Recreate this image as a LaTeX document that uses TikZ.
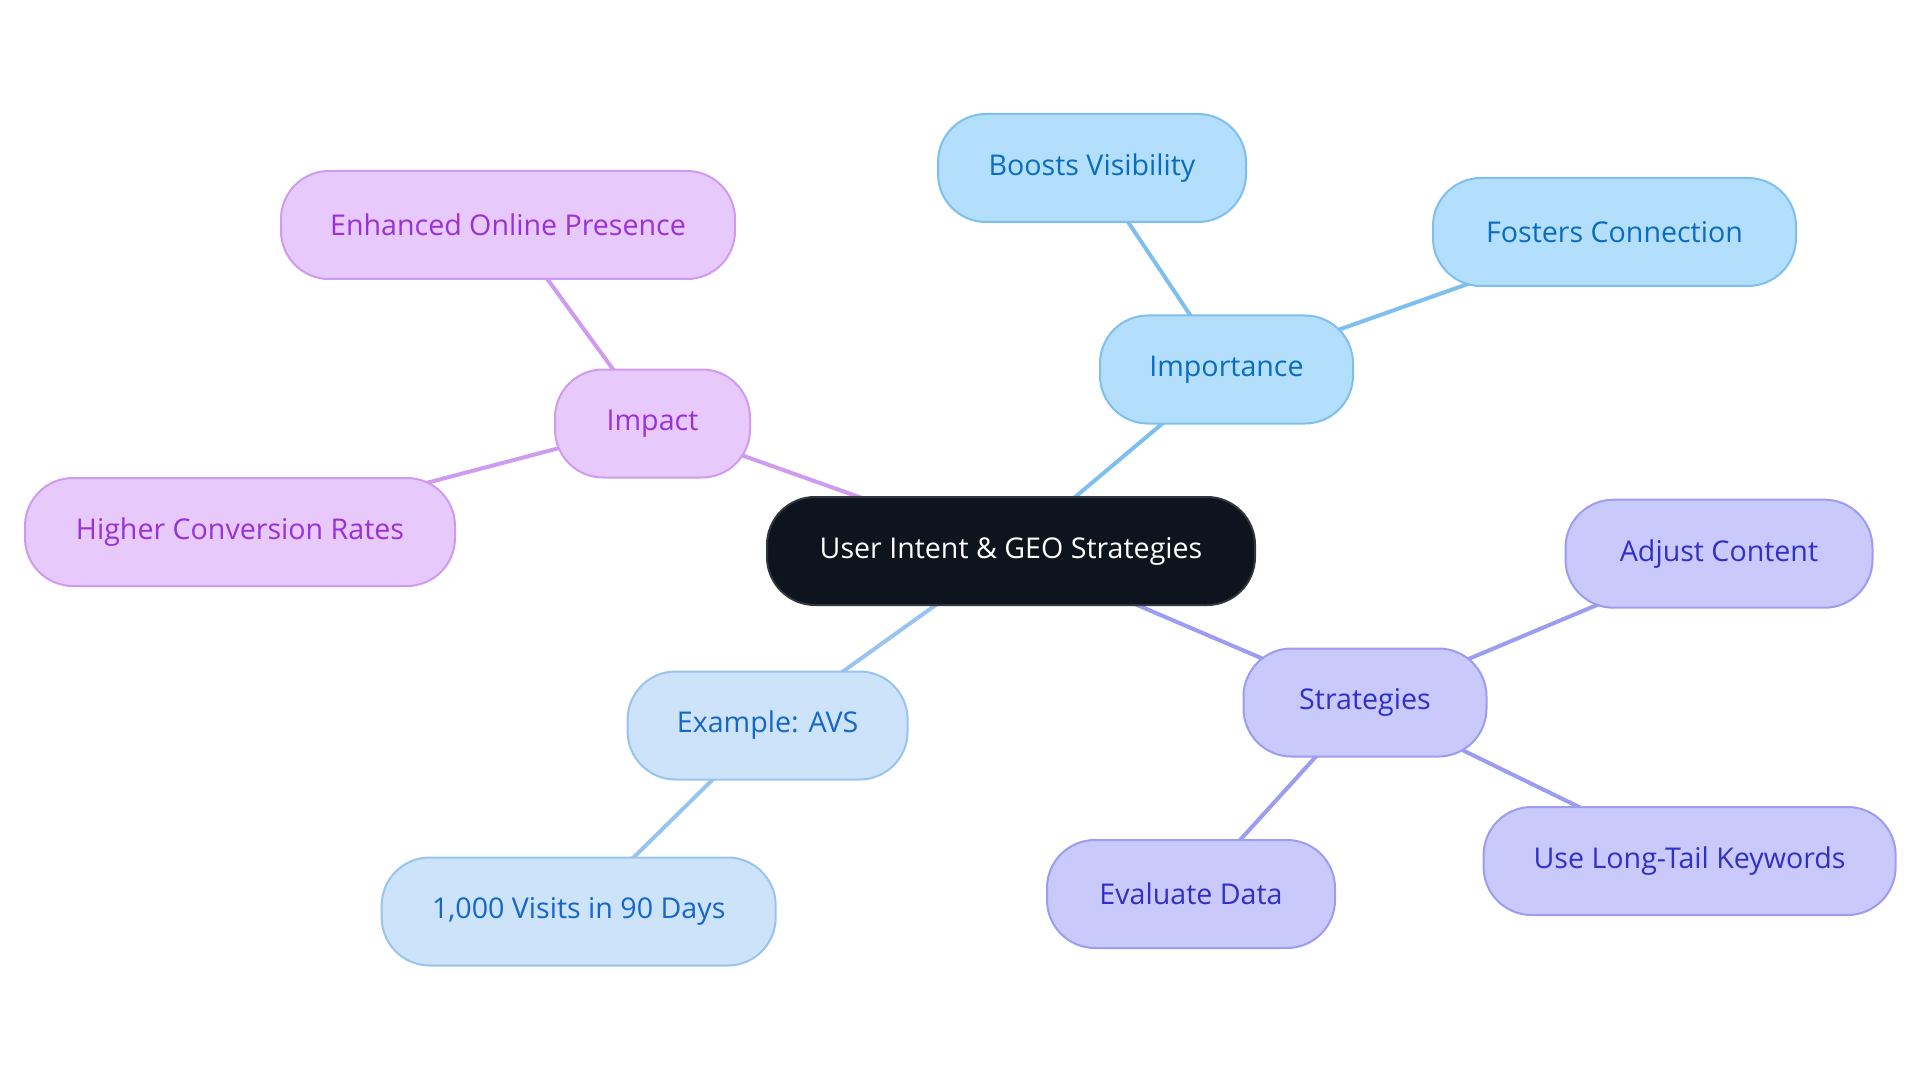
\documentclass[tikz,border=0pt]{standalone}
\usepackage{fontspec}
\setmainfont{Open Sans}
\pgfdeclarelayer{bg}
\pgfsetlayers{bg,main}
\definecolor{cdark}{HTML}{0D141E}
\definecolor{cdarkb}{HTML}{30363E}
\definecolor{bfill}{HTML}{B4DFFC}
\definecolor{bline}{HTML}{7DC0EF}
\definecolor{btext}{HTML}{0A6CBF}
\definecolor{pfill}{HTML}{E7C9FC}
\definecolor{pline}{HTML}{CF9BF0}
\definecolor{ptext}{HTML}{9A30D8}
\definecolor{efill}{HTML}{CDE3FA}
\definecolor{eline}{HTML}{98C4EF}
\definecolor{etext}{HTML}{1566C8}
\definecolor{lfill}{HTML}{C9C9FC}
\definecolor{lline}{HTML}{9C9CF0}
\definecolor{ltext}{HTML}{3030C8}
\tikzset{
  x=1pt, y=-1pt,
  nbox/.style={rounded corners=48pt, minimum height=108pt, inner sep=0pt, line width=2pt, font=\fontsize{28.6}{34}\selectfont},
  rootbox/.style={nbox, fill=cdark, draw=cdarkb, text=white},
  bbox/.style={nbox, fill=bfill, draw=bline, text=btext},
  pbox/.style={nbox, fill=pfill, draw=pline, text=ptext},
  ebox/.style={nbox, fill=efill, draw=eline, text=etext},
  lbox/.style={nbox, fill=lfill, draw=lline, text=ltext},
  edge/.style={line width=4pt},
}
\begin{document}
\begin{tikzpicture}
\useasboundingbox (0,0) rectangle (1920,1083);
\node[rootbox, minimum width=488pt] (root) at (1011,551) {User Intent \& GEO Strategies};
\node[bbox, minimum width=253pt] (imp) at (1226.5,369.5) {Importance};
\node[bbox, minimum width=308pt] (boost) at (1092,168) {Boosts Visibility};
\node[bbox, minimum width=363pt] (fost) at (1614.5,232) {Fosters Connection};
\node[pbox, minimum width=195pt] (impact) at (652.5,423.5) {Impact};
\node[pbox, minimum width=454pt] (enh) at (508,225) {Enhanced Online Presence};
\node[pbox, minimum width=430pt] (high) at (240,532) {Higher Conversion Rates};
\node[ebox, minimum width=280pt] (ex) at (767.6,725.5) {Example: AVS};
\node[ebox, minimum width=394pt] (visits) at (578.7,911.5) {1,000 Visits in 90 Days};
\node[lbox, minimum width=243pt] (strat) at (1365,702.5) {Strategies};
\node[lbox, minimum width=307pt] (adj) at (1719,553.7) {Adjust Content};
\node[lbox, minimum width=412pt] (long) at (1689.6,861) {Use Long-Tail Keywords};
\node[lbox, minimum width=288pt] (eval) at (1191,894) {Evaluate Data};
\begin{pgfonlayer}{bg}
\draw[edge, bline] (root.center) -- (imp.center);
\draw[edge, bline] (imp.center) -- (boost.center);
\draw[edge, bline] (imp.center) -- (fost.center);
\draw[edge, pline] (root.center) -- (impact.center);
\draw[edge, pline] (impact.center) -- (enh.center);
\draw[edge, pline] (impact.center) -- (high.center);
\draw[edge, eline] (root.center) -- (ex.center);
\draw[edge, eline] (ex.center) -- (visits.center);
\draw[edge, lline] (root.center) -- (strat.center);
\draw[edge, lline] (strat.center) -- (adj.center);
\draw[edge, lline] (strat.center) -- (long.center);
\draw[edge, lline] (strat.center) -- (eval.center);
\end{pgfonlayer}
\end{tikzpicture}
\end{document}
